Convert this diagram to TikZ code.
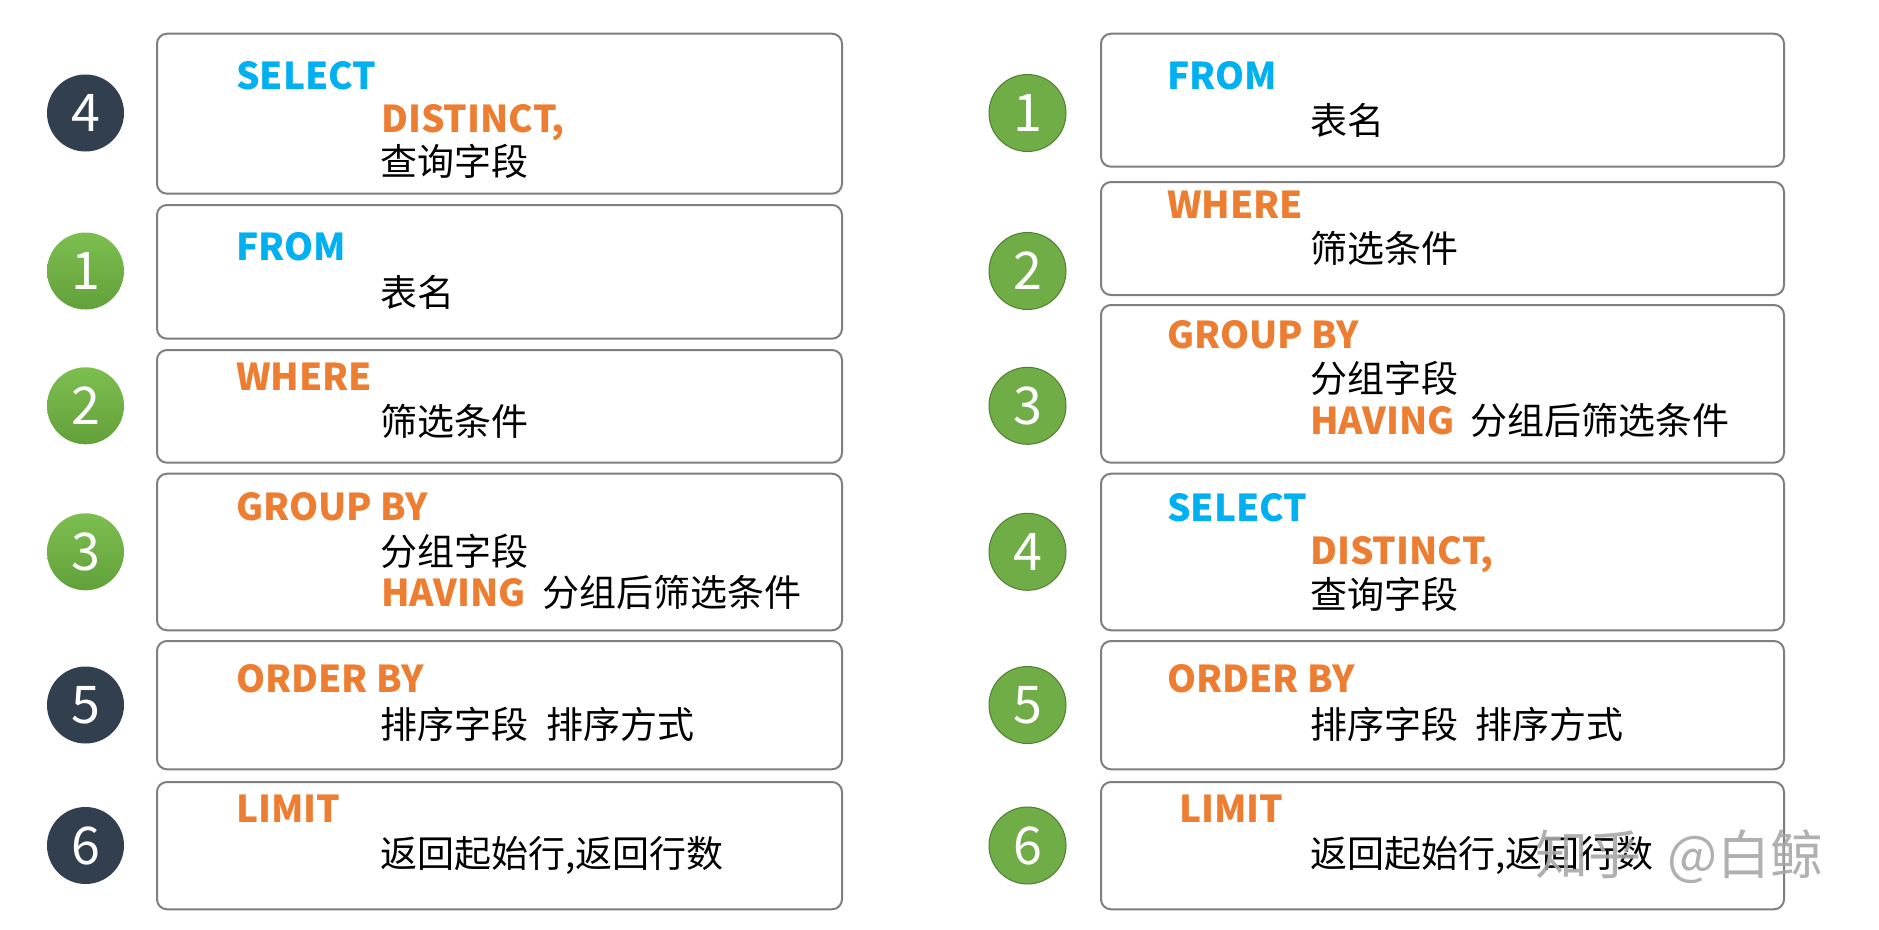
\documentclass[tikz,border=0pt]{standalone}
\usepackage{fontspec}
\setmainfont{Noto Sans CJK SC}
\definecolor{navy}{HTML}{323F4F}
\definecolor{grn}{HTML}{70AD47}
\definecolor{grnD}{HTML}{507E32}
\definecolor{grnL}{HTML}{7DBE50}
\definecolor{grnB}{HTML}{62A13A}
\definecolor{skyb}{HTML}{00B0F0}
\definecolor{orng}{HTML}{ED7D31}
\definecolor{boxline}{HTML}{7F7F7F}
\definecolor{wmgray}{HTML}{A8A8A8}
\begin{document}
\begin{tikzpicture}[x=1pt,y=-1pt,
  panel/.style={draw=boxline,line width=2pt,rounded corners=10pt,anchor=north west,inner sep=0pt,fill=white},
  num/.style={circle,inner sep=0pt,minimum size=77pt,text=white,font=\fontsize{52}{52}\selectfont},
  navyc/.style={num,fill=navy},
  grnshade/.style={num,top color=grnL,bottom color=grnB},
  grnflat/.style={num,fill=grn,draw=grnD,line width=1pt},
  txt/.style={anchor=base west,inner sep=0pt,font=\fontsize{37}{44}\selectfont},
  kwb/.style={txt,text=skyb,font=\fontsize{37}{44}\selectfont\bfseries},
  kwo/.style={txt,text=orng,font=\fontsize{37}{44}\selectfont\bfseries},
  wm/.style={anchor=base west,inner sep=0pt,text=wmgray,text opacity=0.9,font=\fontsize{53}{53}\selectfont}
]
\useasboundingbox[fill=white] (0,0) rectangle (1879,929);

% ---------- left column ----------
\node[panel,minimum width=685pt,minimum height=160pt] (L1) at (156,32.7) {};
\node[panel,minimum width=685pt,minimum height=133.7pt] (L2) at (156,204) {};
\node[panel,minimum width=685pt,minimum height=112.7pt] (L3) at (156,349) {};
\node[panel,minimum width=685pt,minimum height=156.6pt] (L4) at (156,472.7) {};
\node[panel,minimum width=685pt,minimum height=128.3pt] (L5) at (156,640) {};
\node[panel,minimum width=685pt,minimum height=127.3pt] (L6) at (156,781) {};

\node[navyc] (cL1) at (85.5,113) {4};
\node[grnshade] (cL2) at (85.5,271) {1};
\node[grnshade] (cL3) at (85.5,405.8) {2};
\node[grnshade] (cL4) at (85.5,551.8) {3};
\node[navyc] (cL5) at (85.5,705) {5};
\node[navyc] (cL6) at (85.5,845.5) {6};

\node[kwb] (tL1a) at (236,89.3) {SELECT};
\node[kwo] (tL1b) at (381,132.7) {DISTINCT,};
\node[txt] (tL1c) at (380,175.7) {查询字段};

\node[kwb] (tL2a) at (236,260.7) {FROM};
\node[txt] (tL2b) at (380,306.5) {表名};

\node[kwo] (tL3a) at (236,390.7) {WHERE};
\node[txt] (tL3b) at (380,435) {筛选条件};

\node[kwo] (tL4a) at (236,520.7) {GROUP BY};
\node[txt] (tL4b) at (380,565) {分组字段};
\node[kwo] (tL4c) at (381,606.7) {HAVING};
\node[txt] (tL4d) at (542,606.7) {分组后筛选条件};

\node[kwo] (tL5a) at (236,692.7) {ORDER BY};
\node[txt] (tL5b) at (380,738) {排序字段};
\node[txt] (tL5c) at (546,738) {排序方式};

\node[kwo] (tL6a) at (236,822.7) {LIMIT};
\node[txt] (tL6b) at (380,867.4) {返回起始行,返回行数};

% ---------- right column ----------
\node[panel,minimum width=683pt,minimum height=133pt] (R1) at (1100,32.7) {};
\node[panel,minimum width=683pt,minimum height=113pt] (R2) at (1100,181) {};
\node[panel,minimum width=683pt,minimum height=157.7pt] (R3) at (1100,304) {};
\node[panel,minimum width=683pt,minimum height=156.6pt] (R4) at (1100,472.7) {};
\node[panel,minimum width=683pt,minimum height=128.3pt] (R5) at (1100,640) {};
\node[panel,minimum width=683pt,minimum height=127.3pt] (R6) at (1100,781) {};

\node[grnflat] (cR1) at (1027.5,113) {1};
\node[grnflat] (cR2) at (1027.5,271) {2};
\node[grnflat] (cR3) at (1027.5,405.8) {3};
\node[grnflat] (cR4) at (1027.5,551.8) {4};
\node[grnflat] (cR5) at (1027.5,705) {5};
\node[grnflat] (cR6) at (1027.5,845.5) {6};

\node[kwb] (tR1a) at (1167,89.3) {FROM};
\node[txt] (tR1b) at (1310,134) {表名};

\node[kwo] (tR2a) at (1167,218.3) {WHERE};
\node[txt] (tR2b) at (1310,262.4) {筛选条件};

\node[kwo] (tR3a) at (1167,348.3) {GROUP BY};
\node[txt] (tR3b) at (1310,392.4) {分组字段};
\node[kwo] (tR3c) at (1310,434) {HAVING};
\node[txt] (tR3d) at (1470,434) {分组后筛选条件};

\node[kwb] (tR4a) at (1167,521) {SELECT};
\node[kwo] (tR4b) at (1310,564) {DISTINCT,};
\node[txt] (tR4c) at (1310,608) {查询字段};

\node[kwo] (tR5a) at (1167,692.7) {ORDER BY};
\node[txt] (tR5b) at (1310,738) {排序字段};
\node[txt] (tR5c) at (1475,738) {排序方式};

\node[kwo] (tR6a) at (1179,822.7) {LIMIT};
\node[txt] (tR6b) at (1310,867.4) {返回起始行,返回行数};

% watermark
\node[wm] (wm) at (1535,874) {知乎\hspace{0.5em}@白鲸};
\end{tikzpicture}
\end{document}
